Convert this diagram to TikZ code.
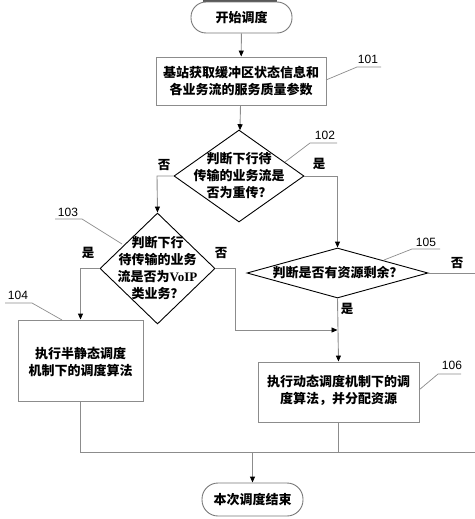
\documentclass[tikz,border=0pt]{standalone}
\usepackage{fontspec}
\setmainfont{Liberation Sans}
\newfontfamily\cjk{Noto Sans CJK SC}
\newfontfamily\serifb{Liberation Serif}
\usetikzlibrary{shapes.geometric,arrows.meta}
\definecolor{lgray}{RGB}{140,140,140}
\definecolor{bgray}{RGB}{120,120,120}
\tikzset{
  every node/.style={font=\cjk\bfseries\fontsize{13pt}{17pt}\selectfont, inner sep=0pt},
  term/.style={draw=bgray, line width=0.9pt, rounded corners=15pt, minimum height=31pt, minimum width=101pt},
  proc/.style={draw=lgray, line width=0.9pt},
  dia/.style={draw=black, line width=0.9pt, diamond, inner sep=0pt},
  txt/.style={align=center},
  conn/.style={draw=lgray, line width=0.9pt},
  arr/.style={conn, -{Triangle[length=6pt,width=5pt,color=black]}},
  lead/.style={draw=lgray, line width=0.7pt},
  refnum/.style={font=\fontsize{12pt}{14pt}\selectfont},
  yn/.style={font=\cjk\bfseries\fontsize{12.5pt}{14pt}\selectfont}
}
\begin{document}
\begin{tikzpicture}[x=1pt,y=-1pt]
\useasboundingbox (0,0) rectangle (474,519);
\fill[black!65] (203,0) rectangle (277,2);
% nodes
\node[term] (start) at (241.5,17.5) {开始调度};
\node[proc, minimum width=170pt, minimum height=48pt] (b101) at (241,81) {};
\node[txt] (t101) at (b101) {基站获取缓冲区状态信息和\\各业务流的服务质量参数};
\node[dia, minimum width=130pt, minimum height=92pt] (d102) at (239,176) {};
\node[txt] (t102) at (239,176) {判断下行待\\传输的业务流是\\否为重传？};
\node[dia, minimum width=115pt, minimum height=111pt] (d103) at (157.5,268.5) {};
\node[txt] (t103) at (157.5,268) {判断下行\\待传输的业务\\流是否为{\serifb\bfseries VoIP}\\类业务？};
\node[dia, minimum width=181pt, minimum height=50pt] (d105) at (337.5,273) {};
\node[txt] (t105) at (337.5,273) {判断是否有资源剩余？};
\node[proc, minimum width=125pt, minimum height=81pt] (b104) at (80.5,360.5) {};
\node[txt] (t104) at (80.5,362) {执行半静态调度\\机制下的调度算法};
\node[proc, minimum width=161pt, minimum height=60pt] (b106) at (338.5,392) {};
\node[txt] (t106) at (338.5,390) {执行动态调度机制下的调\\度算法，并分配资源};
\node[term, minimum height=33pt, rounded corners=16pt] (end) at (252.5,499.5) {本次调度结束};
% coordinates
\coordinate (c102l) at (157,176);
\coordinate (c102r) at (337.5,176);
\coordinate (c103l) at (80.5,268.5);
\coordinate (c103r) at (235,268.5);
\coordinate (c103d) at (235,330);
\coordinate (j1) at (337.5,330);
\coordinate (c105r) at (475,273);
\coordinate (c105d) at (475,452);
\coordinate (c104d) at (80.5,452);
\coordinate (c106d) at (338.5,452);
\coordinate (jend) at (252.5,452);
% connectors
\draw[arr] (start) -- (b101);
\draw[arr] (b101) -- (d102);
\draw[arr] (d102.west) -- (c102l) -- (d103.north);
\draw[arr] (d102.east) -- (c102r) -- (d105.north);
\draw[arr] (d103.west) -- (c103l) -- (b104.north);
\draw[arr] (d103.east) -- (c103r) -- (c103d) -- (j1);
\draw[arr] (d105.south) -- (b106.north);
\draw[conn] (d105.east) -- (c105r) -- (c105d);
\draw[conn] (b104.south) -- (c104d) -- (c105d);
\draw[conn] (b106.south) -- (c106d);
\draw[arr] (jend) -- (end.north);
% yes/no labels
\node[yn] (n102) at (164,165) {否};
\node[yn] (y102) at (319,164) {是};
\node[yn] (y103) at (88,253) {是};
\node[yn] (n103) at (221,253) {否};
\node[yn] (n105) at (457,263) {否};
\node[yn] (y105) at (347,309) {是};
% reference numbers and leaders
\node[refnum] (r101) at (368,59) {101};
\coordinate (l101a) at (326,80); \coordinate (l101b) at (357,67); \coordinate (l101c) at (381,67);
\draw[lead] (l101a) -- (l101b) -- (l101c);
\node[refnum] (r102) at (325,135) {102};
\coordinate (l102a) at (285,162); \coordinate (l102b) at (310,143); \coordinate (l102c) at (337,143);
\draw[lead] (l102a) -- (l102b) -- (l102c);
\node[refnum] (r103) at (68,212) {103};
\coordinate (l103a) at (55,219); \coordinate (l103b) at (82,219); \coordinate (l103c) at (122,244);
\draw[lead] (l103a) -- (l103b) -- (l103c);
\node[refnum] (r104) at (18,295) {104};
\coordinate (l104a) at (5,303); \coordinate (l104b) at (32,303); \coordinate (l104c) at (62,320);
\draw[lead] (l104a) -- (l104b) -- (l104c);
\node[refnum] (r105) at (426,242) {105};
\coordinate (l105a) at (384,260); \coordinate (l105b) at (412,249); \coordinate (l105c) at (440,249);
\draw[lead] (l105a) -- (l105b) -- (l105c);
\node[refnum] (r106) at (452,365) {106};
\coordinate (l106a) at (419,390); \coordinate (l106b) at (438,374); \coordinate (l106c) at (461,374);
\draw[lead] (l106a) -- (l106b) -- (l106c);
\end{tikzpicture}
\end{document}
